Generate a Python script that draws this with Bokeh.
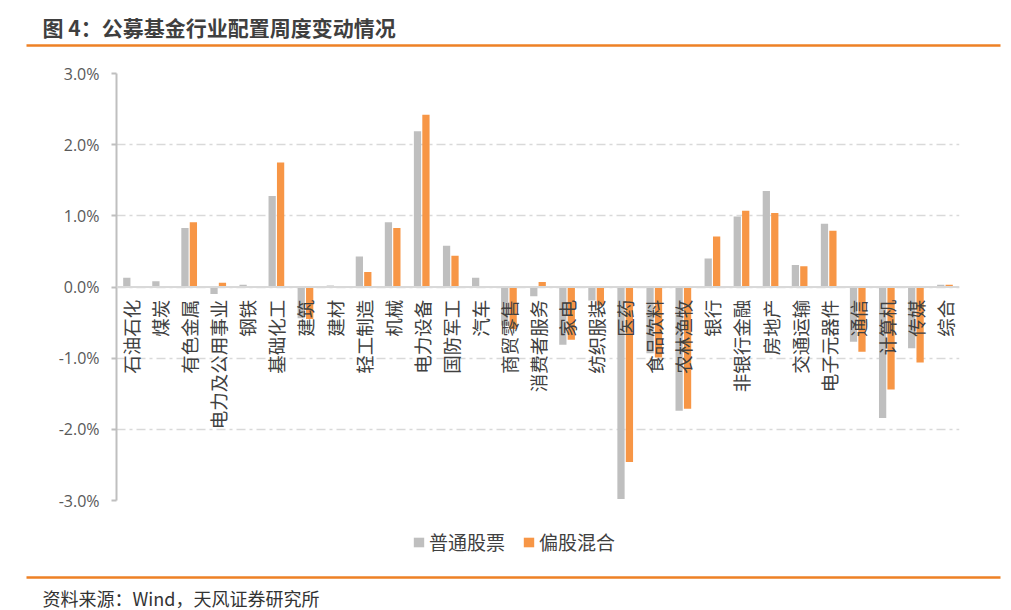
import math
from bokeh.plotting import figure
from bokeh.layouts import column
from bokeh.models import (Range1d, FixedTicker, PrintfTickFormatter, Span,
                          Legend, LegendItem, ColumnDataSource)
from bokeh.core.properties import value
from bokeh.embed import file_html
from bokeh.resources import INLINE

categories = ["石油石化", "煤炭", "有色金属", "电力及公用事业", "钢铁", "基础化工", "建筑", "建材",
              "轻工制造", "机械", "电力设备", "国防军工", "汽车", "商贸零售", "消费者服务", "家电",
              "纺织服装", "医药", "食品饮料", "农林渔牧", "银行", "非银行金融", "房地产", "交通运输",
              "电子元器件", "通信", "计算机", "传媒", "综合"]
stock = [0.13, 0.08, 0.83, -0.10, 0.03, 1.28, -0.44, 0.02, 0.43, 0.91, 2.19, 0.58, 0.13, -0.54,
         -0.13, -0.81, -0.19, -2.98, -0.93, -1.74, 0.40, 0.99, 1.35, 0.31, 0.89, -0.77, -1.84,
         -0.86, 0.03]
mixed = [0.01, 0.01, 0.91, 0.06, 0.00, 1.75, -0.45, 0.00, 0.21, 0.83, 2.42, 0.44, 0.00, -0.59,
         0.07, -0.74, -0.26, -2.46, -0.99, -1.71, 0.71, 1.07, 1.04, 0.29, 0.79, -0.91, -1.44,
         -1.06, 0.03]
y_ticks = [-3, -2, -1, 0, 1, 2, 3]
series_names = ["普通股票", "偏股混合"]
title_text = "图 4：公募基金行业配置周度变动情况"
source_text = "资料来源：Wind，天风证券研究所"

GRAY = "#BFBFBF"
ORANGE = "#F79646"
LINE_ORANGE = "#EE8125"
CJK = "Noto Sans CJK SC"
W = 1011


def no_align(f):
    try:
        f.frame_align = False
    except Exception:
        pass
    return f


def blank_fig(h, y0, y1):
    f = figure(width=W, height=h, output_backend="svg", toolbar_location=None,
               x_range=Range1d(0, W), y_range=Range1d(y1, y0),
               x_axis_type=None, y_axis_type=None, min_border=0)
    f.outline_line_color = None
    f.xgrid.visible = False
    f.ygrid.visible = False
    return no_align(f)


# header (page pixels 0..56)
head = blank_fig(56, 0, 56)
head.text(x=[42], y=[26], text=[title_text], text_align="left", text_baseline="middle",
          text_font=value(CJK), text_font_size="21px", text_font_style="bold",
          text_color="#3F3F3F")
head.segment(x0=[26], y0=[45], x1=[1000], y1=[45], line_color=LINE_ORANGE, line_width=2.5)

# main chart (page pixels 56..520)
idx = list(range(len(categories)))
src = ColumnDataSource(dict(
    x=idx,
    xs=[i - 0.145 for i in idx],
    xm=[i + 0.145 for i in idx],
    stock=stock,
    mixed=mixed,
    cat=categories,
    ly=[-0.18] * len(idx),
))

p = figure(width=W, height=464, output_backend="svg", toolbar_location=None,
           x_range=Range1d(-0.5, len(categories) - 0.5), y_range=Range1d(-3, 3),
           min_border_left=116, min_border_right=52, min_border_top=17, min_border_bottom=20)
no_align(p)
p.outline_line_color = None
p.xaxis.visible = False
p.xgrid.visible = False

p.yaxis.ticker = FixedTicker(ticks=y_ticks)
p.yaxis.formatter = PrintfTickFormatter(format="%.1f%%")
p.yaxis.axis_line_color = "#BFBFBF"
p.yaxis.axis_line_width = 2
p.yaxis.major_tick_line_color = "#BFBFBF"
p.yaxis.major_tick_line_width = 2
p.yaxis.major_tick_out = 5
p.yaxis.major_tick_in = 0
p.yaxis.minor_tick_line_color = None
p.yaxis.major_label_standoff = 12
p.yaxis.major_label_text_font = "Open Sans"
p.yaxis.major_label_text_font_size = "16px"
p.yaxis.major_label_text_color = "#595959"

p.ygrid.ticker = FixedTicker(ticks=y_ticks)
p.ygrid.grid_line_color = "#D9D9D9"
p.ygrid.grid_line_width = 1.5
p.ygrid.grid_line_dash = "9 4 3 4"

p.vbar(x="xs", top="stock", bottom=0, width=0.25, source=src,
       fill_color=GRAY, line_color=None)
p.vbar(x="xm", top="mixed", bottom=0, width=0.25, source=src,
       fill_color=ORANGE, line_color=None)

p.add_layout(Span(location=0, dimension="width", line_color="#D9D9D9", line_width=2))

p.text(x="x", y="ly", text="cat", source=src, angle=math.pi / 2,
       text_align="right", text_baseline="middle",
       text_font=value(CJK), text_font_size="18.5px", text_color="#404040")

# legend + footer (page pixels 520..610)
foot = blank_fig(90, 520, 610)
# legend swatch proxies, placed outside this strip's visible range
lg1 = foot.quad(left=[-600], right=[-500], top=[500], bottom=[510],
                fill_color=GRAY, line_color=None)
lg2 = foot.quad(left=[-600], right=[-500], top=[500], bottom=[510],
                fill_color=ORANGE, line_color=None)
legend = Legend(items=[LegendItem(label=series_names[0], renderers=[lg1]),
                       LegendItem(label=series_names[1], renderers=[lg2])],
                orientation="horizontal", location=(412, 55),
                glyph_width=13, glyph_height=12, label_standoff=4, spacing=17,
                padding=0, margin=0, border_line_color=None, background_fill_alpha=0,
                label_text_font=CJK, label_text_font_size="19px", label_text_color="#404040")
foot.add_layout(legend, "center")
foot.segment(x0=[26], y0=[577], x1=[1000], y1=[577], line_color=LINE_ORANGE, line_width=2.5)
foot.text(x=[42], y=[597], text=[source_text], text_align="left", text_baseline="middle",
          text_font=value(CJK), text_font_size="18px", text_color="#333333")

layout = column(head, p, foot, spacing=0)
open("out.html", "w").write(file_html(layout, INLINE))
